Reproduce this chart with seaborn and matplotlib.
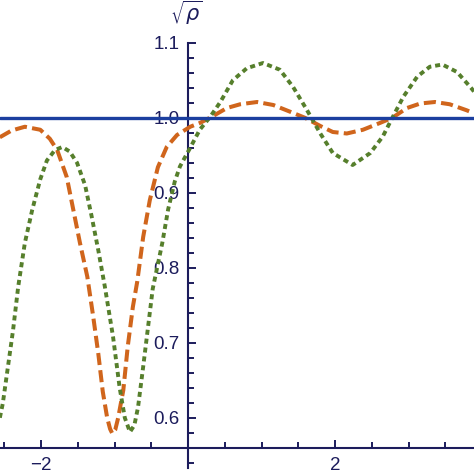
import numpy as np
import pandas as pd
import matplotlib
matplotlib.use("Agg")
import matplotlib.pyplot as plt
from matplotlib.ticker import FixedLocator, MultipleLocator, FixedFormatter
import seaborn as sns

# dashed (orange) curve
x_orange = [-2.56, -2.40, -2.22, -2.01, -1.88, -1.78, -1.65, -1.56, -1.47, -1.37,
            -1.29, -1.22, -1.16, -1.10, -1.06, -1.03, -0.99, -0.95, -0.88, -0.82,
            -0.75, -0.69, -0.61, -0.52, -0.41, -0.29, -0.15, 0.03, 0.16, 0.30,
            0.53, 0.71, 0.94, 1.16, 1.39, 1.59, 1.80, 1.97, 2.16, 2.38,
            2.61, 2.78, 2.98, 3.16, 3.36, 3.56, 3.79, 3.89]
y_orange = [0.974, 0.983, 0.988, 0.984, 0.972, 0.957, 0.921, 0.877, 0.833, 0.788,
            0.735, 0.685, 0.635, 0.600, 0.585, 0.579, 0.584, 0.600, 0.637, 0.695,
            0.748, 0.782, 0.841, 0.890, 0.934, 0.961, 0.977, 0.988, 0.993, 1.000,
            1.013, 1.018, 1.021, 1.017, 1.008, 1.000, 0.989, 0.981, 0.979, 0.984,
            0.993, 1.000, 1.013, 1.019, 1.021, 1.018, 1.010, 1.006]

# dotted (green) curve
x_green = [-2.56, -2.52, -2.45, -2.38, -2.31, -2.22, -2.12, -2.01, -1.92, -1.81,
           -1.71, -1.61, -1.51, -1.40, -1.31, -1.22, -1.13, -1.02, -0.93, -0.86,
           -0.79, -0.73, -0.68, -0.61, -0.54, -0.48, -0.35, -0.27, -0.18, -0.11,
           0.03, 0.16, 0.30, 0.44, 0.61, 0.80, 1.02, 1.25, 1.43, 1.62,
           1.80, 1.97, 2.24, 2.48, 2.65, 2.78, 2.93, 3.12, 3.29, 3.46,
           3.66, 3.85, 3.89]
y_green = [0.600, 0.619, 0.668, 0.717, 0.775, 0.833, 0.877, 0.918, 0.943, 0.957,
           0.961, 0.955, 0.940, 0.910, 0.868, 0.823, 0.774, 0.708, 0.640, 0.600,
           0.581, 0.590, 0.614, 0.668, 0.724, 0.772, 0.833, 0.878, 0.915, 0.935,
           0.960, 0.984, 1.001, 1.021, 1.050, 1.066, 1.073, 1.064, 1.041, 1.010,
           0.979, 0.953, 0.937, 0.953, 0.975, 1.000, 1.028, 1.055, 1.068, 1.071,
           1.061, 1.040, 1.035]

ref_level = 1.0

x_ticks = [-2, 2]
x_ticklabels = ["\u22122", "2"]
y_ticks = [0.6, 0.7, 0.8, 0.9, 1.0, 1.1]
y_ticklabels = ["0.6", "0.7", "0.8", "0.9", "1.0", "1.1"]

AXIS_COLOR = "#1c1c5c"
BLUE = "#1c3f9f"
ORANGE = "#d0651c"
GREEN = "#567f2c"


def main():
    sns.set_style("white")
    plt.rcParams["font.family"] = ["Liberation Sans", "DejaVu Sans"]
    plt.rcParams["xtick.bottom"] = True
    plt.rcParams["ytick.left"] = True

    fig = plt.figure(figsize=(4.74, 4.74), dpi=100)
    ax = fig.add_axes([0, 0, 1, 1])

    df_o = pd.DataFrame({"x": x_orange, "y": y_orange})
    df_g = pd.DataFrame({"x": x_green, "y": y_green})

    sns.lineplot(data=df_o, x="x", y="y", ax=ax, sort=False, estimator=None,
                 color=ORANGE, linewidth=2.9, zorder=3)
    sns.lineplot(data=df_g, x="x", y="y", ax=ax, sort=False, estimator=None,
                 color=GREEN, linewidth=2.8, zorder=4)
    lines = ax.get_lines()
    lines[0].set_dashes((3.0, 1.3))
    lines[0].set_dash_capstyle("butt")
    lines[1].set_dashes((1.3, 1.0))
    lines[1].set_dash_capstyle("butt")

    ax.axhline(ref_level, color=BLUE, linewidth=2.4, zorder=5)

    ax.set_xlim(-2.558, 3.891)
    ax.set_ylim(0.525, 1.157)
    ax.set_xlabel("")
    ax.set_ylabel("")

    # Mathematica-style crossing axes
    ax.spines["top"].set_visible(False)
    ax.spines["right"].set_visible(False)
    ax.spines["left"].set_position(("data", 0))
    ax.spines["bottom"].set_position(("data", 0.56))
    ax.spines["left"].set_bounds(0.533, 1.1)
    for s in ("left", "bottom"):
        ax.spines[s].set_color(AXIS_COLOR)
        ax.spines[s].set_linewidth(1.5)

    ax.xaxis.set_major_locator(FixedLocator(x_ticks))
    ax.xaxis.set_major_formatter(FixedFormatter(x_ticklabels))
    ax.xaxis.set_minor_locator(MultipleLocator(0.5))
    ax.yaxis.set_major_locator(FixedLocator(y_ticks))
    ax.yaxis.set_major_formatter(FixedFormatter(y_ticklabels))
    ax.yaxis.set_minor_locator(FixedLocator(np.arange(0.54, 1.09, 0.02)))

    ax.tick_params(axis="both", which="both", direction="in", colors=AXIS_COLOR,
                   labelcolor=AXIS_COLOR, width=1.4, labelsize=13.5,
                   left=True, bottom=True)
    ax.tick_params(axis="both", which="major", length=6)
    ax.tick_params(axis="both", which="minor", length=4)
    ax.tick_params(axis="x", which="major", pad=6.5)
    ax.tick_params(axis="y", which="major", pad=6)

    ax.text(186 / 474, 1 - 13 / 474, r"$\sqrt{\rho}$", transform=ax.transAxes,
            ha="center", va="center", fontsize=15, color=AXIS_COLOR)

    ax.grid(False)
    fig.savefig("out.png", dpi=100)


if __name__ == "__main__":
    main()
